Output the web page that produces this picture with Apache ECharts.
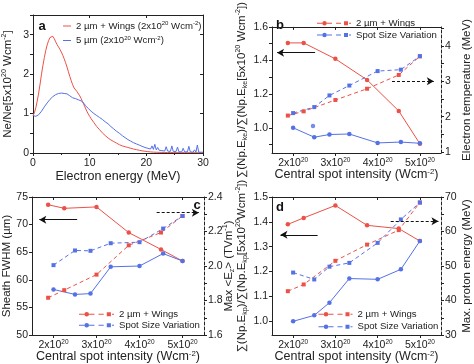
<!DOCTYPE html>
<html><head><meta charset="utf-8">
<script src="https://cdn.jsdelivr.net/npm/echarts@6/dist/echarts.min.js"></script>
<style>html,body{margin:0;padding:0;background:#fff}#c{width:474px;height:364px}</style>
</head><body><div id="c"></div>
<script>
// ---------- panel a : spectra ----------
const energy = [0,0.25,0.5,0.75,1,1.25,1.5,1.75,2,2.25,2.5,2.75,3,3.25,3.5,3.75,4,4.25,4.5,4.75,5,5.25,5.5,5.75,6,6.25,6.5,6.75,7,7.25,7.5,7.75,8,8.25,8.5,8.75,9,9.25,9.5,9.75,10,10.25,10.5,10.75,11,11.25,11.5,11.75,12,12.25,12.5,12.75,13,13.25,13.5,13.75,14,14.25,14.5,14.75,15,15.25,15.5,15.75,16,16.25,16.5,16.75,17,17.25,17.5,17.75,18,18.25,18.5,18.75,19,19.25,19.5,19.75,20,20.25,20.5,20.75,21,21.25,21.5,21.75,22,22.25,22.5,22.75,23,23.25,23.5,23.75,24,24.25,24.5,24.75,25,25.25,25.5,25.75,26,26.25,26.5,26.75,27,27.25,27.5,27.75,28,28.25,28.5,28.75,29,29.25,29.5,29.75,30];
const spectrumWings = [0.95,1.02,1.15,1.32,1.52,1.75,2.0,2.22,2.42,2.6,2.74,2.85,2.93,2.97,2.96,2.9,2.82,2.75,2.69,2.63,2.56,2.48,2.39,2.29,2.18,2.06,1.94,1.83,1.73,1.65,1.6,1.56,1.51,1.45,1.38,1.3,1.22,1.14,1.06,0.99,0.93,0.87,0.82,0.77,0.72,0.67,0.63,0.59,0.55,0.51,0.48,0.44,0.41,0.38,0.35,0.33,0.31,0.29,0.27,0.25,0.23,0.21,0.2,0.18,0.17,0.16,0.15,0.14,0.13,0.12,0.11,0.1,0.09,0.085,0.075,0.07,0.06,0.055,0.05,0.045,0.04,0.035,0.03,0.028,0.025,0.022,0.02,0.019,0.018,0.017,0.016,0.015,0.015,0.014,0.013,0.013,0.012,0.012,0.011,0.011,0.01,0.01,0.01,0.01,0.009,0.009,0.009,0.009,0.008,0.008,0.008,0.008,0.008,0.007,0.007,0.007,0.007,0.007,0.006,0.006,0.006];
const spectrum5um = [0.95,0.94,0.93,0.94,0.97,1.01,1.06,1.11,1.17,1.22,1.27,1.32,1.36,1.4,1.43,1.46,1.48,1.5,1.51,1.53,1.52,1.54,1.51,1.5,1.5,1.47,1.45,1.43,1.4,1.42,1.38,1.36,1.35,1.3,1.32,1.27,1.26,1.2,1.18,1.13,1.12,1.06,1.04,1.0,0.99,0.95,0.94,0.9,0.9,0.85,0.84,0.79,0.8,0.74,0.73,0.67,0.68,0.61,0.62,0.55,0.57,0.5,0.5,0.44,0.46,0.39,0.4,0.34,0.36,0.3,0.32,0.26,0.29,0.23,0.25,0.2,0.22,0.17,0.19,0.14,0.16,0.12,0.15,0.1,0.18,0.09,0.22,0.08,0.14,0.07,0.12,0.06,0.1,0.05,0.16,0.05,0.1,0.04,0.18,0.04,0.08,0.04,0.15,0.03,0.06,0.03,0.12,0.03,0.05,0.03,0.17,0.03,0.06,0.02,0.08,0.02,0.2,0.02,0.05,0.02,0.02];
const aXTicks = [0,10,20,30];
const aYTicks = [0,1,2,3];

// ---------- panels b, c, d ----------
const xWings = [1.875, 2.25, 3.0, 3.75, 4.5, 5.0];   // x 10^20 W/cm2
const xSpot  = [2.0, 2.5, 2.86, 3.33, 4.0, 4.55, 5.0];
const xTickVals = [2, 3, 4, 5];

// b
const bWingsEnergyRatio = [1.505, 1.505, 1.41, 1.285, 1.10, 0.905];
const bSpotEnergyRatio  = [1.0, 0.944, 0.96, 0.963, 0.91, 0.915, 0.908];
const bSpotExtraX = [2.47];
const bSpotExtraY = [1.01];
const bWingsTemp = [2.03, 2.15, 2.47, 2.79, 3.18, 3.71];
const bSpotTemp  = [2.10, 2.27, 2.60, 2.88, 3.29, 3.33, 3.71];
const bLeftTicks = [1.0, 1.2, 1.4, 1.6];
const bRightTicks = [1, 2, 3, 4];

// c
const cWingsFWHM = [73.6, 72.95, 73.2, 68.55, 65.5, 63.4];
const cSpotFWHM  = [58.25, 57.35, 57.5, 62.35, 62.5, 64.75, 63.4];
const cWingsEz = [1.816, 1.86, 1.95, 2.12, 2.194, 2.29];
const cSpotEz  = [2.005, 2.09, 2.088, 2.132, 2.138, 2.217, 2.29];
const cLeftTicks = [50, 55, 60, 65, 70, 75];
const cRightTicks = [1.6, 1.8, 2.0, 2.2, 2.4];

// d
const dWingsEnergyRatio = [1.39, 1.416, 1.466, 1.386, 1.373, 1.323];
const dSpotEnergyRatio  = [1.0, 1.024, 1.075, 1.172, 1.169, 1.209, 1.323];
const dWingsMaxE = [42.7, 44.65, 51.5, 56.2, 60.4, 68.4];
const dSpotMaxE  = [48.1, 46.1, 49.8, 50.9, 56.7, 63.5, 68.4];
const dLeftTicks = [1.0, 1.1, 1.2, 1.3, 1.4, 1.5];
const dRightTicks = [30, 40, 50, 60, 70];

// ---------- styling ----------
const FONT = 'Liberation Sans';
const TXT = '#222';
const AX = '#222';
const RED = '#ec5147';
const BLUE = '#5571e6';
const NAME_WINGS = '2 µm + Wings';
const NAME_SPOT = 'Spot Size Variation';
const NAME_A1 = '2 µm + Wings (2x10²⁰ Wcm⁻²)';
const NAME_A2 = '5 µm (2x10²⁰ Wcm⁻²)';
const LEG_ICON = 'path://M0,3.5H10.5V5.5H0Z M19.5,3.5H30V5.5H19.5Z M19.5,4.5A4.5,4.5,0,1,1,10.5,4.5A4.5,4.5,0,1,1,19.5,4.5Z M38,3.5H48V5.5H38Z M54,0.5H62V8.5H54Z M64,3.5H68V5.5H64Z';

function R(size, lh) {
  const s = +(size * 0.62).toFixed(1);
  return {
    n: { fontFamily: FONT, fontSize: size, lineHeight: lh, color: TXT, verticalAlign: 'middle' },
    sup: { fontFamily: FONT, fontSize: s, lineHeight: Math.round(s + 1), color: TXT, verticalAlign: 'top' },
    sub: { fontFamily: FONT, fontSize: s, lineHeight: Math.round(s + 1), color: TXT, verticalAlign: 'bottom' }
  };
}
const pairs = (xs, ys) => xs.map((x, i) => [x, ys[i]]);

function mirrorX(g, min, max, ticks) {
  return { gridIndex: g, type: 'value', position: 'top', min, max,
    axisLine: { onZero: false, lineStyle: { color: AX, width: 1 } },
    axisTick: { inside: true, length: 3, customValues: ticks, lineStyle: { color: AX } },
    axisLabel: { show: false, customValues: ticks }, splitLine: { show: false } };
}
function bottomX(g, gap) {
  return { gridIndex: g, type: 'value', position: 'bottom', min: 1.5, max: 5.5,
    axisLine: { onZero: false, lineStyle: { color: AX, width: 1 } },
    axisTick: { length: 3, customValues: xTickVals, lineStyle: { color: AX } },
    axisLabel: { customValues: xTickVals, margin: 4, formatter: v => '{n|' + v + 'x10}{sup|20}', rich: R(10.5, 12) },
    splitLine: { show: false },
    name: '{n|Central spot intensity (Wcm}{sup|-2}{n|)}', nameLocation: 'middle', nameGap: gap, nameMoveOverlap: false,
    nameTextStyle: { rich: R(12.5, 14) } };
}
function yAx(g, pos, min, max, labels, ticks, fmt, name, gap, dashed) {
  return { gridIndex: g, type: 'value', position: pos, min, max,
    axisLine: { onZero: false, lineStyle: { color: AX, width: 1, type: dashed ? [3, 2] : 'solid' } },
    axisTick: { length: 3, customValues: ticks, lineStyle: { color: AX } },
    axisLabel: { customValues: labels, margin: 4, fontFamily: FONT, fontSize: 10.5, color: TXT, formatter: fmt },
    splitLine: { show: false },
    name, nameLocation: 'middle', nameGap: gap, nameRotate: 90, nameMoveOverlap: false,
    nameTextStyle: { rich: R(11.5, 14) } };
}
const f1 = v => v.toFixed(1);
const f0 = v => String(Math.round(v));

function arrow(from, to, dashed) {
  return { silent: true, symbol: ['none', 'arrow'], symbolSize: [6, 7], animation: false,
    label: { show: false }, emphasis: { disabled: true },
    lineStyle: { color: '#111', width: 1, type: dashed ? [3, 2] : 'solid' },
    data: [[{ coord: from }, { coord: to }]] };
}
function solidSeries(name, color, xi, yi, xs, ys, extra) {
  return Object.assign({ name, type: 'line', xAxisIndex: xi, yAxisIndex: yi, data: pairs(xs, ys),
    symbol: 'circle', symbolSize: 4.5, showSymbol: true,
    lineStyle: { color, width: 1 }, itemStyle: { color }, emphasis: { disabled: true } }, extra || {});
}
function dashSeries(name, color, xi, yi, xs, ys, extra) {
  return Object.assign({ name, type: 'line', xAxisIndex: xi, yAxisIndex: yi, data: pairs(xs, ys),
    symbol: 'rect', symbolSize: 4, showSymbol: true,
    lineStyle: { color, width: 1, type: [4, 3] }, itemStyle: { color }, emphasis: { disabled: true } }, extra || {});
}
function pairLegend(left, top, iw, gap) {
  return { orient: 'vertical', left, top, padding: 0, itemGap: gap, itemWidth: iw, itemHeight: iw * 9 / 68,
    icon: LEG_ICON, itemStyle: { borderWidth: 0 }, selectedMode: false,
    data: [NAME_WINGS, NAME_SPOT], formatter: n => '{n|' + n + '}', textStyle: { rich: R(9.6, 10) } };
}

const legendA = {};
legendA[NAME_A1] = '{n|2 µm + Wings (2x10}{sup|20}{n| Wcm}{sup|-2}{n|)}';
legendA[NAME_A2] = '{n|5 µm (2x10}{sup|20}{n| Wcm}{sup|-2}{n|)}';

const option = {
  animation: false,
  backgroundColor: '#fff',
  textStyle: { fontFamily: FONT },
  grid: [
    { left: 32, top: 15, width: 171, height: 138 },
    { left: 272, top: 15, width: 169, height: 138 },
    { left: 32, top: 197, width: 172, height: 138 },
    { left: 272, top: 197, width: 169, height: 138 }
  ],
  xAxis: [
    { gridIndex: 0, type: 'value', position: 'bottom', min: 0, max: 30, interval: 10,
      axisLine: { onZero: false, lineStyle: { color: AX, width: 1 } },
      axisTick: { length: 3, lineStyle: { color: AX } },
      minorTick: { show: true, splitNumber: 2, length: 2, lineStyle: { color: AX } },
      axisLabel: { margin: 5, fontFamily: FONT, fontSize: 10.5, color: TXT },
      splitLine: { show: false },
      name: '{n|Electron energy (MeV)}', nameLocation: 'middle', nameGap: 16.5, nameMoveOverlap: false,
      nameTextStyle: { rich: R(12.5, 14) } },
    mirrorX(0, 0, 30, aXTicks),
    bottomX(1, 14.5), mirrorX(1, 1.5, 5.5, xTickVals),
    bottomX(2, 14.5), mirrorX(2, 1.5, 5.5, xTickVals),
    bottomX(3, 14.5), mirrorX(3, 1.5, 5.5, xTickVals)
  ],
  yAxis: [
    yAx(0, 'left', 0, 3.5, aYTicks, [0, 0.5, 1, 1.5, 2, 2.5, 3, 3.5], f0,
      '{n|Ne/Ne[5x10}{sup|20}{n| Wcm}{sup|-2}{n|]}', 18, false),
    { gridIndex: 0, type: 'value', position: 'right', min: 0, max: 3.5,
      axisLine: { onZero: false, lineStyle: { color: AX, width: 1 } },
      axisTick: { inside: true, length: 3, customValues: aYTicks, lineStyle: { color: AX } },
      axisLabel: { show: false, customValues: aYTicks }, splitLine: { show: false } },
    yAx(1, 'left', 0.85, 1.6, bLeftTicks, [0.9, 1.0, 1.1, 1.2, 1.3, 1.4, 1.5, 1.6], f1,
      '{n|∑(Np.E}{sub|ke}{n|)/∑(Np.E}{sub|ke}{n|[5x10}{sup|20}{n| Wcm}{sup|-2}{n|])}', 23, false),
    yAx(1, 'right', 0.97, 4.54, bRightTicks, [1, 1.5, 2, 2.5, 3, 3.5, 4, 4.5], f0,
      '{n|Electron temperature (MeV)}', 19, true),
    yAx(2, 'left', 50, 75, cLeftTicks, cLeftTicks, f0, '{n|Sheath FWHM (µm)}', 18, false),
    yAx(2, 'right', 1.6, 2.4, cRightTicks, [1.6, 1.7, 1.8, 1.9, 2.0, 2.1, 2.2, 2.3, 2.4], f1,
      '{n|Max <E}{sub|z}{n|> (TVm}{sup|-1}{n|)}', 18, true),
    yAx(3, 'left', 0.945, 1.5, dLeftTicks, dLeftTicks, f1,
      '{n|∑(Np.E}{sub|kp}{n|)/∑(Np.E}{sub|kp}{n|[5x10}{sup|20}{n|Wcm}{sup|-2}{n|])}', 23.5, false),
    yAx(3, 'right', 30, 70, dRightTicks, [30, 35, 40, 45, 50, 55, 60, 65, 70], f0,
      '{n|Max. proton energy (MeV)}', 19, true)
  ],
  legend: [
    { orient: 'vertical', left: 63, top: 20.5, padding: 0, itemGap: 4, itemWidth: 8, itemHeight: 1,
      icon: 'rect', itemStyle: { borderWidth: 0 }, selectedMode: false,
      data: [NAME_A1, NAME_A2], formatter: n => legendA[n], textStyle: { rich: R(9.6, 11) } },
    pairLegend(317, 18.3, 34, 1.7),
    pairLegend(79, 309.3, 35, 1),
    pairLegend(318.5, 309.3, 34, 2.5)
  ],
  series: [
    { name: NAME_A1, type: 'line', xAxisIndex: 0, yAxisIndex: 0, data: pairs(energy, spectrumWings),
      showSymbol: false, symbol: 'none', lineStyle: { color: RED, width: 1 }, itemStyle: { color: RED } },
    { name: NAME_A2, type: 'line', xAxisIndex: 0, yAxisIndex: 0, data: pairs(energy, spectrum5um),
      showSymbol: false, symbol: 'none', lineStyle: { color: BLUE, width: 1 }, itemStyle: { color: BLUE } },

    solidSeries(NAME_WINGS, RED, 2, 2, xWings, bWingsEnergyRatio, { markLine: arrow([2.52, 1.447], [1.62, 1.447], false) }),
    solidSeries(NAME_SPOT, BLUE, 2, 2, xSpot, bSpotEnergyRatio),
    { name: 'b-extra', type: 'scatter', xAxisIndex: 2, yAxisIndex: 2, data: pairs(bSpotExtraX, bSpotExtraY),
      symbol: 'circle', symbolSize: 4.5, itemStyle: { color: BLUE } },
    dashSeries('b-wings-T', RED, 2, 3, xWings, bWingsTemp, { markLine: arrow([4.34, 3.0], [5.33, 3.0], true) }),
    dashSeries('b-spot-T', BLUE, 2, 3, xSpot, bSpotTemp),

    solidSeries(NAME_WINGS, RED, 4, 4, xWings, cWingsFWHM, { markLine: arrow([2.55, 70.9], [1.67, 70.9], false) }),
    solidSeries(NAME_SPOT, BLUE, 4, 4, xSpot, cSpotFWHM),
    dashSeries('c-wings-E', RED, 4, 5, xWings, cWingsEz, { markLine: arrow([4.40, 2.309], [5.38, 2.309], true) }),
    dashSeries('c-spot-E', BLUE, 4, 5, xSpot, cSpotEz),

    solidSeries(NAME_WINGS, RED, 6, 6, xWings, dWingsEnergyRatio, { markLine: arrow([2.58, 1.348], [1.70, 1.348], false) }),
    solidSeries(NAME_SPOT, BLUE, 6, 6, xSpot, dSpotEnergyRatio),
    dashSeries('d-wings-P', RED, 6, 7, xWings, dWingsMaxE, { markLine: arrow([4.31, 62.96], [5.44, 62.96], true) }),
    dashSeries('d-spot-P', BLUE, 6, 7, xSpot, dSpotMaxE)
  ],
  graphic: [
    { type: 'text', x: 42, y: 26, style: { text: 'a', font: 'bold 13px "Liberation Sans"', fill: '#111', textAlign: 'center', textVerticalAlign: 'middle' } },
    { type: 'text', x: 280, y: 25, style: { text: 'b', font: 'bold 13px "Liberation Sans"', fill: '#111', textAlign: 'center', textVerticalAlign: 'middle' } },
    { type: 'text', x: 197, y: 205, style: { text: 'c', font: 'bold 13px "Liberation Sans"', fill: '#111', textAlign: 'center', textVerticalAlign: 'middle' } },
    { type: 'text', x: 280, y: 207, style: { text: 'd', font: 'bold 13px "Liberation Sans"', fill: '#111', textAlign: 'center', textVerticalAlign: 'middle' } }
  ]
};
const chart = echarts.init(document.getElementById('c'), null, { renderer: 'canvas' });
chart.setOption(option);
</script>
</body></html>
